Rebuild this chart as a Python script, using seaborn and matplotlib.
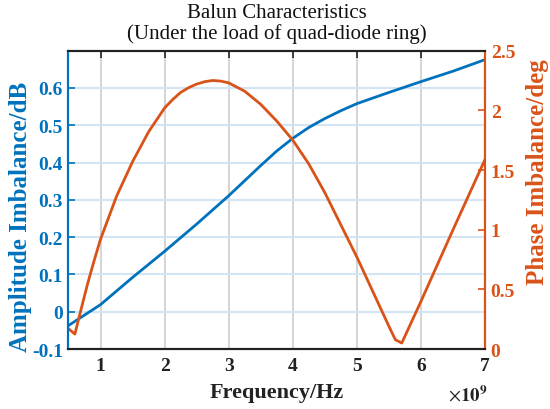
import numpy as np
import seaborn as sns
import matplotlib
matplotlib.use('Agg')
import matplotlib.pyplot as plt
from matplotlib.ticker import FuncFormatter, FixedLocator

# frequency in GHz (scaled to Hz when plotting)
freq_amp = [0.5, 1.0, 1.5, 2.0, 2.5, 3.0, 3.5, 3.75, 4.0, 4.25, 4.5, 4.75, 5.0, 5.5,
            6.0, 6.5, 7.0]
amp_imbalance = [-0.037, 0.019, 0.092, 0.162, 0.235, 0.311, 0.392, 0.431, 0.465, 0.494,
                 0.518, 0.539, 0.558, 0.588, 0.617, 0.645, 0.676]

freq_phase = [0.5, 0.6, 0.7, 0.8, 0.9, 1.0, 1.25, 1.5, 1.75, 2.0, 2.125, 2.25, 2.375,
              2.5, 2.625, 2.75, 2.875, 3.0, 3.25, 3.5, 3.75, 4.0, 4.25, 4.5, 4.75, 5.0,
              5.25, 5.5, 5.6, 5.7, 6.0, 6.5, 7.0]
phase_imbalance = [0.17, 0.125, 0.34, 0.55, 0.74, 0.92, 1.28, 1.57, 1.82, 2.02, 2.09,
                   2.15, 2.19, 2.22, 2.24, 2.25, 2.245, 2.23, 2.16, 2.05, 1.91, 1.75,
                   1.55, 1.31, 1.04, 0.77, 0.48, 0.19, 0.078, 0.05, 0.40, 1.0, 1.59]

left_ticks = [-0.1, 0, 0.1, 0.2, 0.3, 0.4, 0.5, 0.6]
right_ticks = [0, 0.5, 1, 1.5, 2, 2.5]
x_ticks = [1, 2, 3, 4, 5, 6, 7]

blue = '#0072BD'
orange = '#D95319'

sns.set_style('white')
plt.rcParams['font.family'] = ['Liberation Serif', 'DejaVu Serif']
plt.rcParams['mathtext.fontset'] = 'stix'

fig = plt.figure(figsize=(5.5, 4.1), dpi=100)
ax = fig.add_axes([0.1245, 0.1463, 0.7575, 0.7277])
ax2 = ax.twinx()

sns.lineplot(x=np.array(freq_amp) * 1e9, y=amp_imbalance, ax=ax, color=blue, linewidth=2)
sns.lineplot(x=np.array(freq_phase) * 1e9, y=phase_imbalance, ax=ax2, color=orange, linewidth=2)

ax.set_xlim(0.5e9, 7e9)
ax.set_ylim(-0.1, 0.7)
ax2.set_ylim(0, 2.5)

ax.xaxis.set_major_locator(FixedLocator([v * 1e9 for v in x_ticks]))
ax.xaxis.set_major_formatter(FuncFormatter(lambda v, p: '%g' % (v / 1e9)))
ax.yaxis.set_major_locator(FixedLocator(left_ticks))
ax.yaxis.set_major_formatter(FuncFormatter(lambda v, p: '%g' % round(v, 2)))
ax2.yaxis.set_major_locator(FixedLocator(right_ticks))
ax2.yaxis.set_major_formatter(FuncFormatter(lambda v, p: '%g' % v))

# grid: grey verticals, light blue horizontals
ax.grid(False)
ax2.grid(False)
ax.xaxis.grid(True, color='#d6d6d6', linewidth=1.5)
ax.yaxis.grid(True, color='#d2e5f4', linewidth=1.5)

ax.tick_params(axis='x', direction='in', top=True, length=5, width=1.2, colors='#222222',
               labelsize=14, pad=6)
ax.tick_params(axis='y', direction='in', length=5, width=1.2, colors=blue, labelsize=14, pad=4)
ax2.tick_params(axis='y', direction='in', length=5, width=1.2, colors=orange, labelsize=14, pad=4)
for lab in ax.get_xticklabels() + ax.get_yticklabels() + ax2.get_yticklabels():
    lab.set_fontweight('bold')

for a in (ax, ax2):
    a.spines['top'].set_color('#222222')
    a.spines['bottom'].set_color('#222222')
    a.spines['left'].set_color(blue)
    a.spines['right'].set_color(orange)
    for s in a.spines.values():
        s.set_linewidth(1.5)

ax.set_xlabel('Frequency/Hz', fontsize=16, fontweight='bold', color='#222222', va='center')
ax.set_ylabel('Amplitude Imbalance/dB', fontsize=18, fontweight='bold', color=blue,
              va='center', ha='center')
ax2.set_ylabel('Phase Imbalance/deg', fontsize=18, fontweight='bold', color=orange,
               va='center', ha='center')
ax.xaxis.set_label_coords(0.5, -0.144)
ax.yaxis.set_label_coords(-0.114, 0.446)
ax2.yaxis.set_label_coords(1.125, 0.597)
ax.set_title('Balun Characteristics\n(Under the load of quad-diode ring)', fontsize=15,
             color='#111111', linespacing=1.1, pad=9)

fig.text(0.851, 0.02, r'$\times\mathbf{10^{9}}$', fontsize=13.5, color='#222222', ha='center')

fig.savefig('out.png', dpi=100)
